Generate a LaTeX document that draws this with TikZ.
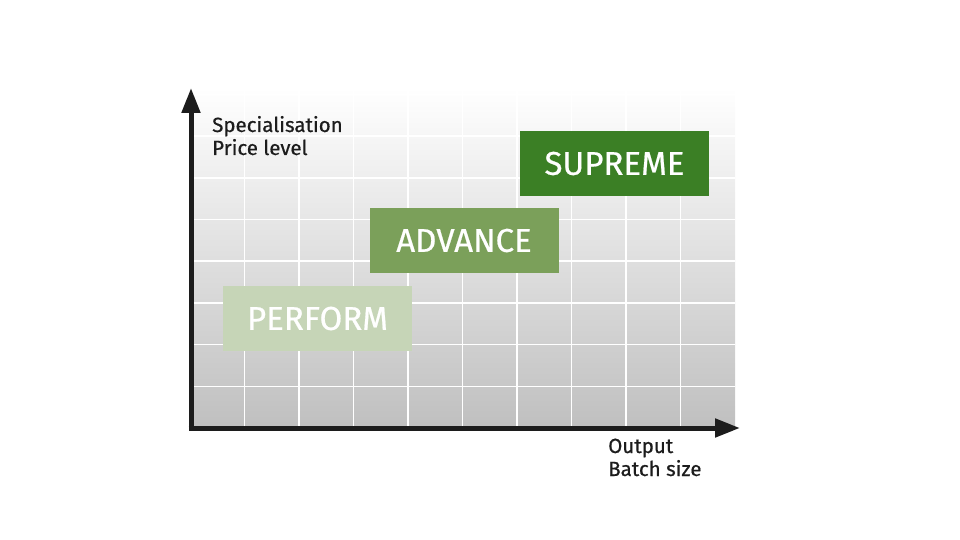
\documentclass[tikz,border=0pt]{standalone}
\usepackage{fontspec}
\setmainfont{Fira Sans}
\newfontfamily\labelfont{Fira Sans}[FakeBold=0.6]
\usetikzlibrary{arrows.meta,positioning}
\definecolor{perform}{HTML}{C6D5B7}
\definecolor{advance}{HTML}{7BA05A}
\definecolor{supreme}{HTML}{3B7F25}
\definecolor{axis}{HTML}{1C1C1C}

\begin{document}
\begin{tikzpicture}[x=1pt,y=-1pt,
  lvl/.style={rectangle,minimum width=189pt,minimum height=65pt,inner sep=0pt,
              text=white,font=\labelfont\fontsize{33}{36}\selectfont},
  gridl/.style={white,line width=1.6pt},
  ax/.style={-{Triangle[length=25pt,width=18pt]},line width=5pt,color=axis},
  lbl/.style={anchor=base west,inner sep=0pt,align=left,
              font=\labelfont\fontsize{20.5}{23}\selectfont,text=axis}
]
  \useasboundingbox (0,0) rectangle (960,540);

  % background with grid
  \shade[top color=white,bottom color=gray!50] (190,88) rectangle (735,428);
  \foreach \i in {1,...,9}
    \draw[gridl] ({190+54.5*\i},90) -- ({190+54.5*\i},428);
  \foreach \j in {1,...,8}
    \draw[gridl] (190,{428-41.7*\j}) -- (735,{428-41.7*\j});

  % levels
  \node[lvl,fill=perform] (perform) at (317.5,318.5) {PERFORM};
  \node[lvl,fill=advance] (advance) at (464,240.5) {ADVANCE};
  \node[lvl,fill=supreme] (supreme) at (614.5,163.5) {SUPREME};

  % axes
  \coordinate (o) at (191,428);
  \coordinate (ytip) at (191,88);
  \coordinate (xtip) at (740,428);
  \draw[ax] ([yshift=-2.5pt]o) -- (ytip);
  \draw[ax] ([xshift=-2.5pt]o) -- (xtip);

  \node[lbl] (ylabel) at (212,155) {Specialisation\\Price level};
  \node[lbl] (xlabel) at (608,476) {Output\\Batch size};
\end{tikzpicture}
\end{document}
